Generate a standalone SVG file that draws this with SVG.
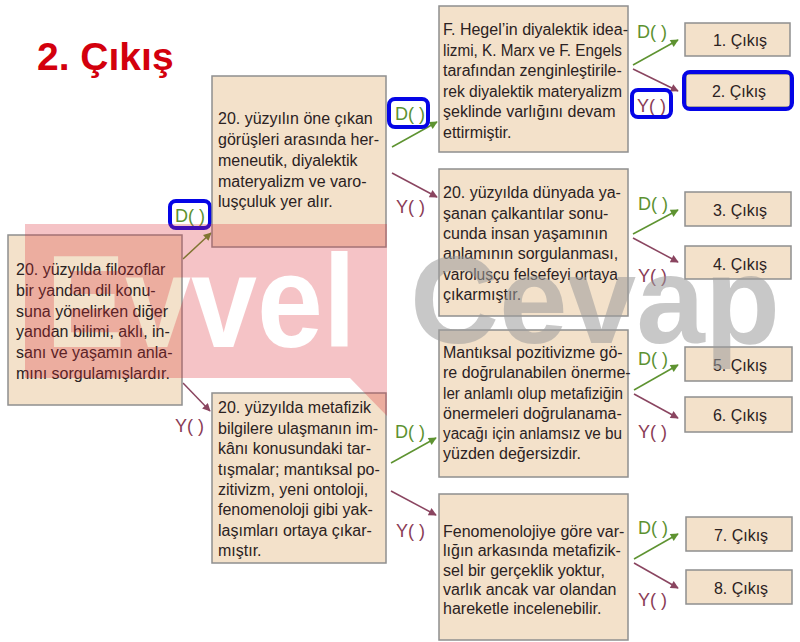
<svg xmlns="http://www.w3.org/2000/svg" width="800" height="642" viewBox="0 0 800 642">
<style>
.box{fill:#f3e1ca;stroke:#8f8f8f;stroke-width:1.5}
.t{font-family:"Liberation Sans",Arial,sans-serif;font-size:16px;fill:#2b2222}
.ex{font-family:"Liberation Sans",Arial,sans-serif;font-size:16px;fill:#2b2222;text-anchor:middle}
.lab{font-family:"Liberation Sans",Arial,sans-serif;font-size:18px}
.d{fill:#5c9130}
.y{fill:#8a3c56}
.ag{stroke:#5e9331;stroke-width:1.5;fill:none;marker-end:url(#mg)}
.ay{stroke:#8a4560;stroke-width:1.5;fill:none;marker-end:url(#my)}
.hl{fill:none;stroke:#0505e6;stroke-width:4}
</style>
<defs>
<marker id="mg" viewBox="0 0 10 10" refX="9" refY="5" markerWidth="10" markerHeight="8" markerUnits="userSpaceOnUse" orient="auto"><path d="M0,0 L10,5 L0,10 z" fill="#5e9331"/></marker>
<marker id="my" viewBox="0 0 10 10" refX="9" refY="5" markerWidth="10" markerHeight="8" markerUnits="userSpaceOnUse" orient="auto"><path d="M0,0 L10,5 L0,10 z" fill="#8a4560"/></marker>
<mask id="wm" maskUnits="userSpaceOnUse" x="0" y="0" width="800" height="642">
<rect x="0" y="0" width="800" height="642" fill="#fff"/>
<text x="46" y="347" font-family="Liberation Sans,Arial,sans-serif" font-weight="bold" font-size="132" textLength="310" lengthAdjust="spacingAndGlyphs" fill="#000">Evvel</text>
</mask>
</defs>
<rect width="800" height="642" fill="#fff"/>
<text x="37" y="70" font-family="Liberation Sans,Arial,sans-serif" font-weight="bold" font-size="39" fill="#d3000d">2. Çıkış</text>

<g id="connectors">
<line class="ag" x1="183" y1="259" x2="211" y2="233"/>
<line class="ay" x1="183" y1="383" x2="210" y2="411"/>
<line class="ag" x1="392" y1="147" x2="437" y2="122"/>
<line class="ay" x1="392" y1="173" x2="437" y2="197"/>
<line class="ag" x1="391" y1="463" x2="436" y2="438"/>
<line class="ay" x1="391" y1="491" x2="436" y2="515"/>
<line class="ag" x1="633" y1="65" x2="678" y2="40"/>
<line class="ay" x1="633" y1="69" x2="678" y2="91"/>
<line class="ag" x1="633" y1="234" x2="678" y2="210"/>
<line class="ay" x1="633" y1="238" x2="678" y2="262"/>
<line class="ag" x1="634" y1="390" x2="678" y2="365"/>
<line class="ay" x1="634" y1="394" x2="678" y2="418"/>
<line class="ag" x1="634" y1="559" x2="678" y2="534"/>
<line class="ay" x1="634" y1="563" x2="678" y2="588"/>
<text class="lab d" x="175" y="222">D( )</text>
<text class="lab y" x="175" y="432">Y( )</text>
<text class="lab d" x="395" y="120">D( )</text>
<text class="lab y" x="396" y="213">Y( )</text>
<text class="lab d" x="395" y="438">D( )</text>
<text class="lab y" x="396" y="537">Y( )</text>
<text class="lab d" x="637" y="38">D( )</text>
<text class="lab y" x="637" y="112">Y( )</text>
<text class="lab d" x="638" y="210">D( )</text>
<text class="lab y" x="638" y="282">Y( )</text>
<text class="lab d" x="638" y="365">D( )</text>
<text class="lab y" x="638" y="438">Y( )</text>
<text class="lab d" x="638" y="534">D( )</text>
<text class="lab y" x="638" y="606">Y( )</text>
<rect class="hl" x="170" y="201" width="40" height="27" rx="6"/>
<rect class="hl" x="389" y="99" width="39" height="28" rx="6"/>
<rect class="hl" x="632" y="90" width="39" height="27" rx="6"/>
</g>

<g id="n-root">
<rect class="box" x="8" y="235" width="174" height="170"/>
<text class="t"><tspan x="16" y="275">20. yüzyılda filozoflar</tspan><tspan x="16" y="296">bir yandan dil konu-</tspan><tspan x="16" y="317">suna yönelirken diğer</tspan><tspan x="16" y="337">yandan bilimi, aklı, in-</tspan><tspan x="16" y="358">sanı ve yaşamın anla-</tspan><tspan x="16" y="379">mını sorgulamışlardır.</tspan></text>
</g>

<g id="n-a">
<rect class="box" x="212" y="76" width="174" height="171"/>
<text class="t"><tspan x="218" y="124">20. yüzyılın öne çıkan</tspan><tspan x="218" y="145">görüşleri arasında her-</tspan><tspan x="218" y="166">meneutik, diyalektik</tspan><tspan x="218" y="187">materyalizm ve varo-</tspan><tspan x="218" y="207">luşçuluk yer alır.</tspan></text>
</g>

<g id="n-b">
<rect class="box" x="212" y="393" width="174" height="170"/>
<text class="t"><tspan x="218" y="413">20. yüzyılda metafizik</tspan><tspan x="218" y="433.5">bilgilere ulaşmanın im-</tspan><tspan x="218" y="454">kânı konusundaki tar-</tspan><tspan x="218" y="474.5">tışmalar; mantıksal po-</tspan><tspan x="218" y="495">zitivizm, yeni ontoloji,</tspan><tspan x="218" y="515">fenomenoloji gibi yak-</tspan><tspan x="218" y="535.5">laşımları ortaya çıkar-</tspan><tspan x="218" y="556">mıştır.</tspan></text>
</g>

<g id="n-hegel">
<rect class="box" x="439" y="6" width="189" height="146"/>
<text class="t"><tspan x="443" y="35">F. Hegel’in diyalektik idea-</tspan><tspan x="443" y="55.5" textLength="179" lengthAdjust="spacingAndGlyphs">lizmi, K. Marx ve F. Engels</tspan><tspan x="443" y="76">tarafından zenginleştirile-</tspan><tspan x="443" y="96.5" textLength="179" lengthAdjust="spacingAndGlyphs">rek diyalektik materyalizm</tspan><tspan x="443" y="117">şeklinde varlığını devam</tspan><tspan x="443" y="137.5">ettirmiştir.</tspan></text>
</g>

<g id="n-dunya">
<rect class="box" x="439" y="169" width="189" height="147"/>
<text class="t"><tspan x="443" y="198">20. yüzyılda dünyada ya-</tspan><tspan x="443" y="218.5">şanan çalkantılar sonu-</tspan><tspan x="443" y="239">cunda insan yaşamının</tspan><tspan x="443" y="259">anlamının sorgulanması,</tspan><tspan x="443" y="279.5" textLength="175" lengthAdjust="spacingAndGlyphs">varoluşçu felsefeyi ortaya</tspan><tspan x="443" y="300">çıkarmıştır.</tspan></text>
</g>

<g id="n-mantiksal">
<rect class="box" x="439" y="330" width="189" height="147"/>
<text class="t"><tspan x="443" y="358">Mantıksal pozitivizme gö-</tspan><tspan x="443" y="378">re doğrulanabilen önerme-</tspan><tspan x="443" y="398.5" textLength="180" lengthAdjust="spacingAndGlyphs">ler anlamlı olup metafiziğin</tspan><tspan x="443" y="418.5">önermeleri doğrulanama-</tspan><tspan x="443" y="439" textLength="179" lengthAdjust="spacingAndGlyphs">yacağı için anlamsız ve bu</tspan><tspan x="443" y="459">yüzden değersizdir.</tspan></text>
</g>

<g id="n-fenomen">
<rect class="box" x="439" y="494" width="189" height="146"/>
<text class="t"><tspan x="443" y="537">Fenomenolojiye göre var-</tspan><tspan x="443" y="556">lığın arkasında metafizik-</tspan><tspan x="443" y="575.5">sel bir gerçeklik yoktur,</tspan><tspan x="443" y="594.5">varlık ancak var olandan</tspan><tspan x="443" y="613.5">hareketle incelenebilir.</tspan></text>
</g>

<g id="exit1"><rect class="box" x="685" y="23" width="105" height="33"/><text class="ex" x="740" y="46">1. Çıkış</text></g>
<g id="exit2"><rect class="box" x="686" y="74" width="104" height="33"/><text class="ex" x="739" y="97">2. Çıkış</text><rect class="hl" x="684" y="72" width="108" height="37" rx="6"/></g>
<g id="exit3"><rect class="box" x="685" y="192" width="106" height="34"/><text class="ex" x="740" y="216">3. Çıkış</text></g>
<g id="exit4"><rect class="box" x="685" y="246" width="106" height="33"/><text class="ex" x="740" y="270">4. Çıkış</text></g>
<g id="exit5"><rect class="box" x="685" y="347" width="107" height="34"/><text class="ex" x="740" y="371">5. Çıkış</text></g>
<g id="exit6"><rect class="box" x="685" y="397" width="107" height="35"/><text class="ex" x="740" y="421">6. Çıkış</text></g>
<g id="exit7"><rect class="box" x="686" y="517" width="106" height="34"/><text class="ex" x="741" y="541">7. Çıkış</text></g>
<g id="exit8"><rect class="box" x="686" y="570" width="106" height="34"/><text class="ex" x="741" y="594">8. Çıkış</text></g>

<g id="watermark">
<polygon points="25,224 387,224 387,416 350,378 25,378" fill="#dc2832" fill-opacity="0.28" mask="url(#wm)"/>
<text x="410" y="343" font-family="Liberation Sans,Arial,sans-serif" font-weight="bold" font-size="124" textLength="370" lengthAdjust="spacingAndGlyphs" fill="#9a9a9a" fill-opacity="0.55">Cevap</text>
</g>
</svg>
